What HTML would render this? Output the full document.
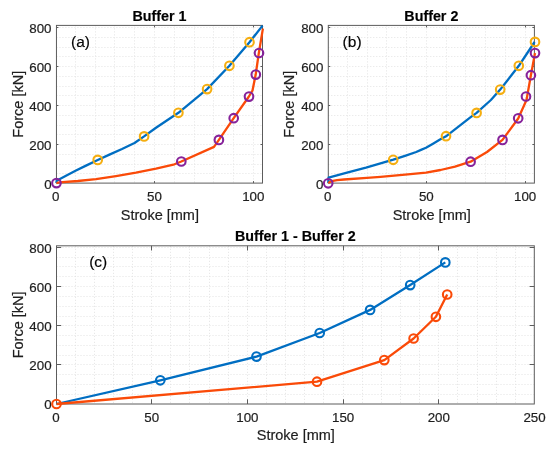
<!DOCTYPE html>
<html><head><meta charset="utf-8"><title>Buffer force-stroke</title>
<style>
html,body{margin:0;padding:0;background:#fff;width:550px;height:449px;overflow:hidden}
svg{display:block}
text{font-family:"Liberation Sans",Arial,Helvetica,sans-serif;fill:#1e1e1e;stroke:#1e1e1e;stroke-width:0.2px}
.tl{font-size:13.33px}
.lb{font-size:14.5px}
.tt{font-size:14.3px;font-weight:bold;fill:#000}
.abc{font-size:15.5px;fill:#000}
.g{stroke:#e3e3e3;stroke-width:1;stroke-dasharray:1 2;fill:none}
.box{fill:none;stroke:#5c5c5c;stroke-width:1}
.tk{stroke:#5c5c5c;stroke-width:1}
</style></head><body>
<svg width="550" height="449" viewBox="0 0 550 449">
<rect width="550" height="449" fill="#fff"/>
<line x1="75.5" y1="25.4" x2="75.5" y2="183.1" class="g"/>
<line x1="95.5" y1="25.4" x2="95.5" y2="183.1" class="g"/>
<line x1="114.5" y1="25.4" x2="114.5" y2="183.1" class="g"/>
<line x1="134.5" y1="25.4" x2="134.5" y2="183.1" class="g"/>
<line x1="154.5" y1="25.4" x2="154.5" y2="183.1" class="g"/>
<line x1="174.5" y1="25.4" x2="174.5" y2="183.1" class="g"/>
<line x1="194.5" y1="25.4" x2="194.5" y2="183.1" class="g"/>
<line x1="213.5" y1="25.4" x2="213.5" y2="183.1" class="g"/>
<line x1="233.5" y1="25.4" x2="233.5" y2="183.1" class="g"/>
<line x1="253.5" y1="25.4" x2="253.5" y2="183.1" class="g"/>
<line x1="56.45" y1="173.5" x2="262.5" y2="173.5" class="g"/>
<line x1="56.45" y1="164.5" x2="262.5" y2="164.5" class="g"/>
<line x1="56.45" y1="154.5" x2="262.5" y2="154.5" class="g"/>
<line x1="56.45" y1="144.5" x2="262.5" y2="144.5" class="g"/>
<line x1="56.45" y1="134.5" x2="262.5" y2="134.5" class="g"/>
<line x1="56.45" y1="125.5" x2="262.5" y2="125.5" class="g"/>
<line x1="56.45" y1="115.5" x2="262.5" y2="115.5" class="g"/>
<line x1="56.45" y1="105.5" x2="262.5" y2="105.5" class="g"/>
<line x1="56.45" y1="95.5" x2="262.5" y2="95.5" class="g"/>
<line x1="56.45" y1="86.5" x2="262.5" y2="86.5" class="g"/>
<line x1="56.45" y1="76.5" x2="262.5" y2="76.5" class="g"/>
<line x1="56.45" y1="66.5" x2="262.5" y2="66.5" class="g"/>
<line x1="56.45" y1="56.5" x2="262.5" y2="56.5" class="g"/>
<line x1="56.45" y1="47.5" x2="262.5" y2="47.5" class="g"/>
<line x1="56.45" y1="37.5" x2="262.5" y2="37.5" class="g"/>
<line x1="56.45" y1="27.5" x2="262.5" y2="27.5" class="g"/>
<rect x="56.45" y="25.4" width="206.05" height="157.7" class="box"/>
<text x="55.75" y="201.1" class="tl" text-anchor="middle">0</text>
<line x1="154.5" y1="183.1" x2="154.5" y2="181.1" class="tk"/>
<line x1="154.5" y1="25.4" x2="154.5" y2="27.4" class="tk"/>
<text x="154.5" y="201.1" class="tl" text-anchor="middle">50</text>
<line x1="253.5" y1="183.1" x2="253.5" y2="181.1" class="tk"/>
<line x1="253.5" y1="25.4" x2="253.5" y2="27.4" class="tk"/>
<text x="253.25" y="201.1" class="tl" text-anchor="middle">100</text>
<text x="51.55" y="188.7" class="tl" text-anchor="end">0</text>
<line x1="56.45" y1="144.5" x2="58.45" y2="144.5" class="tk"/>
<line x1="262.5" y1="144.5" x2="260.5" y2="144.5" class="tk"/>
<text x="51.55" y="149.74" class="tl" text-anchor="end">200</text>
<line x1="56.45" y1="105.5" x2="58.45" y2="105.5" class="tk"/>
<line x1="262.5" y1="105.5" x2="260.5" y2="105.5" class="tk"/>
<text x="51.55" y="110.78" class="tl" text-anchor="end">400</text>
<line x1="56.45" y1="66.5" x2="58.45" y2="66.5" class="tk"/>
<line x1="262.5" y1="66.5" x2="260.5" y2="66.5" class="tk"/>
<text x="51.55" y="71.82" class="tl" text-anchor="end">600</text>
<line x1="56.45" y1="27.5" x2="58.45" y2="27.5" class="tk"/>
<line x1="262.5" y1="27.5" x2="260.5" y2="27.5" class="tk"/>
<text x="51.55" y="32.86" class="tl" text-anchor="end">800</text>
<text x="159.47" y="20.9" class="tt" text-anchor="middle">Buffer 1</text>
<text x="159.88" y="219.6" class="lb" text-anchor="middle">Stroke [mm]</text>
<text transform="translate(22.6,104.25) rotate(-90)" class="lb" text-anchor="middle">Force [kN]</text>
<text x="71" y="46.7" class="abc">(a)</text>
<line x1="347.5" y1="25.4" x2="347.5" y2="183.1" class="g"/>
<line x1="367.5" y1="25.4" x2="367.5" y2="183.1" class="g"/>
<line x1="386.5" y1="25.4" x2="386.5" y2="183.1" class="g"/>
<line x1="406.5" y1="25.4" x2="406.5" y2="183.1" class="g"/>
<line x1="426.5" y1="25.4" x2="426.5" y2="183.1" class="g"/>
<line x1="446.5" y1="25.4" x2="446.5" y2="183.1" class="g"/>
<line x1="465.5" y1="25.4" x2="465.5" y2="183.1" class="g"/>
<line x1="485.5" y1="25.4" x2="485.5" y2="183.1" class="g"/>
<line x1="505.5" y1="25.4" x2="505.5" y2="183.1" class="g"/>
<line x1="525.5" y1="25.4" x2="525.5" y2="183.1" class="g"/>
<line x1="328.3" y1="173.5" x2="534.4" y2="173.5" class="g"/>
<line x1="328.3" y1="164.5" x2="534.4" y2="164.5" class="g"/>
<line x1="328.3" y1="154.5" x2="534.4" y2="154.5" class="g"/>
<line x1="328.3" y1="144.5" x2="534.4" y2="144.5" class="g"/>
<line x1="328.3" y1="134.5" x2="534.4" y2="134.5" class="g"/>
<line x1="328.3" y1="125.5" x2="534.4" y2="125.5" class="g"/>
<line x1="328.3" y1="115.5" x2="534.4" y2="115.5" class="g"/>
<line x1="328.3" y1="105.5" x2="534.4" y2="105.5" class="g"/>
<line x1="328.3" y1="95.5" x2="534.4" y2="95.5" class="g"/>
<line x1="328.3" y1="86.5" x2="534.4" y2="86.5" class="g"/>
<line x1="328.3" y1="76.5" x2="534.4" y2="76.5" class="g"/>
<line x1="328.3" y1="66.5" x2="534.4" y2="66.5" class="g"/>
<line x1="328.3" y1="56.5" x2="534.4" y2="56.5" class="g"/>
<line x1="328.3" y1="47.5" x2="534.4" y2="47.5" class="g"/>
<line x1="328.3" y1="37.5" x2="534.4" y2="37.5" class="g"/>
<line x1="328.3" y1="27.5" x2="534.4" y2="27.5" class="g"/>
<rect x="328.3" y="25.4" width="206.1" height="157.7" class="box"/>
<text x="327.6" y="201.1" class="tl" text-anchor="middle">0</text>
<line x1="426.5" y1="183.1" x2="426.5" y2="181.1" class="tk"/>
<line x1="426.5" y1="25.4" x2="426.5" y2="27.4" class="tk"/>
<text x="426.35" y="201.1" class="tl" text-anchor="middle">50</text>
<line x1="525.5" y1="183.1" x2="525.5" y2="181.1" class="tk"/>
<line x1="525.5" y1="25.4" x2="525.5" y2="27.4" class="tk"/>
<text x="525.1" y="201.1" class="tl" text-anchor="middle">100</text>
<text x="323.4" y="188.7" class="tl" text-anchor="end">0</text>
<line x1="328.3" y1="144.5" x2="330.3" y2="144.5" class="tk"/>
<line x1="534.4" y1="144.5" x2="532.4" y2="144.5" class="tk"/>
<text x="323.4" y="149.74" class="tl" text-anchor="end">200</text>
<line x1="328.3" y1="105.5" x2="330.3" y2="105.5" class="tk"/>
<line x1="534.4" y1="105.5" x2="532.4" y2="105.5" class="tk"/>
<text x="323.4" y="110.78" class="tl" text-anchor="end">400</text>
<line x1="328.3" y1="66.5" x2="330.3" y2="66.5" class="tk"/>
<line x1="534.4" y1="66.5" x2="532.4" y2="66.5" class="tk"/>
<text x="323.4" y="71.82" class="tl" text-anchor="end">600</text>
<line x1="328.3" y1="27.5" x2="330.3" y2="27.5" class="tk"/>
<line x1="534.4" y1="27.5" x2="532.4" y2="27.5" class="tk"/>
<text x="323.4" y="32.86" class="tl" text-anchor="end">800</text>
<text x="431.35" y="20.9" class="tt" text-anchor="middle">Buffer 2</text>
<text x="431.75" y="219.6" class="lb" text-anchor="middle">Stroke [mm]</text>
<text transform="translate(294.4,104.25) rotate(-90)" class="lb" text-anchor="middle">Force [kN]</text>
<text x="342.6" y="47" class="abc">(b)</text>
<line x1="75.5" y1="245.8" x2="75.5" y2="404" class="g"/>
<line x1="94.5" y1="245.8" x2="94.5" y2="404" class="g"/>
<line x1="113.5" y1="245.8" x2="113.5" y2="404" class="g"/>
<line x1="132.5" y1="245.8" x2="132.5" y2="404" class="g"/>
<line x1="151.5" y1="245.8" x2="151.5" y2="404" class="g"/>
<line x1="170.5" y1="245.8" x2="170.5" y2="404" class="g"/>
<line x1="189.5" y1="245.8" x2="189.5" y2="404" class="g"/>
<line x1="209.5" y1="245.8" x2="209.5" y2="404" class="g"/>
<line x1="228.5" y1="245.8" x2="228.5" y2="404" class="g"/>
<line x1="247.5" y1="245.8" x2="247.5" y2="404" class="g"/>
<line x1="266.5" y1="245.8" x2="266.5" y2="404" class="g"/>
<line x1="285.5" y1="245.8" x2="285.5" y2="404" class="g"/>
<line x1="304.5" y1="245.8" x2="304.5" y2="404" class="g"/>
<line x1="323.5" y1="245.8" x2="323.5" y2="404" class="g"/>
<line x1="343.5" y1="245.8" x2="343.5" y2="404" class="g"/>
<line x1="362.5" y1="245.8" x2="362.5" y2="404" class="g"/>
<line x1="381.5" y1="245.8" x2="381.5" y2="404" class="g"/>
<line x1="400.5" y1="245.8" x2="400.5" y2="404" class="g"/>
<line x1="419.5" y1="245.8" x2="419.5" y2="404" class="g"/>
<line x1="438.5" y1="245.8" x2="438.5" y2="404" class="g"/>
<line x1="457.5" y1="245.8" x2="457.5" y2="404" class="g"/>
<line x1="477.5" y1="245.8" x2="477.5" y2="404" class="g"/>
<line x1="496.5" y1="245.8" x2="496.5" y2="404" class="g"/>
<line x1="515.5" y1="245.8" x2="515.5" y2="404" class="g"/>
<line x1="56.5" y1="394.5" x2="534.3" y2="394.5" class="g"/>
<line x1="56.5" y1="384.5" x2="534.3" y2="384.5" class="g"/>
<line x1="56.5" y1="374.5" x2="534.3" y2="374.5" class="g"/>
<line x1="56.5" y1="364.5" x2="534.3" y2="364.5" class="g"/>
<line x1="56.5" y1="355.5" x2="534.3" y2="355.5" class="g"/>
<line x1="56.5" y1="345.5" x2="534.3" y2="345.5" class="g"/>
<line x1="56.5" y1="335.5" x2="534.3" y2="335.5" class="g"/>
<line x1="56.5" y1="325.5" x2="534.3" y2="325.5" class="g"/>
<line x1="56.5" y1="316.5" x2="534.3" y2="316.5" class="g"/>
<line x1="56.5" y1="306.5" x2="534.3" y2="306.5" class="g"/>
<line x1="56.5" y1="296.5" x2="534.3" y2="296.5" class="g"/>
<line x1="56.5" y1="286.5" x2="534.3" y2="286.5" class="g"/>
<line x1="56.5" y1="276.5" x2="534.3" y2="276.5" class="g"/>
<line x1="56.5" y1="266.5" x2="534.3" y2="266.5" class="g"/>
<line x1="56.5" y1="257.5" x2="534.3" y2="257.5" class="g"/>
<line x1="56.5" y1="247.5" x2="534.3" y2="247.5" class="g"/>
<rect x="56.5" y="245.8" width="477.8" height="158.2" class="box"/>
<text x="56" y="421.6" class="tl" text-anchor="middle">0</text>
<line x1="151.5" y1="404" x2="151.5" y2="399.3" class="tk"/>
<line x1="151.5" y1="245.8" x2="151.5" y2="250.5" class="tk"/>
<text x="151.7" y="421.6" class="tl" text-anchor="middle">50</text>
<line x1="247.5" y1="404" x2="247.5" y2="399.3" class="tk"/>
<line x1="247.5" y1="245.8" x2="247.5" y2="250.5" class="tk"/>
<text x="247.4" y="421.6" class="tl" text-anchor="middle">100</text>
<line x1="343.5" y1="404" x2="343.5" y2="399.3" class="tk"/>
<line x1="343.5" y1="245.8" x2="343.5" y2="250.5" class="tk"/>
<text x="343.1" y="421.6" class="tl" text-anchor="middle">150</text>
<line x1="438.5" y1="404" x2="438.5" y2="399.3" class="tk"/>
<line x1="438.5" y1="245.8" x2="438.5" y2="250.5" class="tk"/>
<text x="438.8" y="421.6" class="tl" text-anchor="middle">200</text>
<text x="534.5" y="421.6" class="tl" text-anchor="middle">250</text>
<text x="51.6" y="409.3" class="tl" text-anchor="end">0</text>
<line x1="56.5" y1="364.5" x2="61.2" y2="364.5" class="tk"/>
<line x1="534.3" y1="364.5" x2="529.6" y2="364.5" class="tk"/>
<text x="51.6" y="370.1" class="tl" text-anchor="end">200</text>
<line x1="56.5" y1="325.5" x2="61.2" y2="325.5" class="tk"/>
<line x1="534.3" y1="325.5" x2="529.6" y2="325.5" class="tk"/>
<text x="51.6" y="330.9" class="tl" text-anchor="end">400</text>
<line x1="56.5" y1="286.5" x2="61.2" y2="286.5" class="tk"/>
<line x1="534.3" y1="286.5" x2="529.6" y2="286.5" class="tk"/>
<text x="51.6" y="291.7" class="tl" text-anchor="end">600</text>
<line x1="56.5" y1="247.5" x2="61.2" y2="247.5" class="tk"/>
<line x1="534.3" y1="247.5" x2="529.6" y2="247.5" class="tk"/>
<text x="51.6" y="252.5" class="tl" text-anchor="end">800</text>
<text x="295.4" y="241" class="tt" text-anchor="middle">Buffer 1 - Buffer 2</text>
<text x="295.8" y="440.2" class="lb" text-anchor="middle">Stroke [mm]</text>
<text transform="translate(22.6,324.9) rotate(-90)" class="lb" text-anchor="middle">Force [kN]</text>
<text x="89.2" y="266.9" class="abc">(c)</text>
<polyline points="56.45,183.1 56.6,180.8 66,175.8 76,170.6 86,165.6 97.7,160 110,154.4 122,149 134.5,143 144.1,136.4 156,127.8 178.4,112.8 207.1,89.1 229.4,65.8 249.5,42.3 262.5,25.6" fill="none" stroke="#006EC2" stroke-width="2.3" stroke-linejoin="round" stroke-linecap="butt"/>
<polyline points="56.45,183.1 59.6,182.4 77.8,181 96,179.1 116,176.1 136,172.7 156,168.6 174.5,164.3 181.3,161.5 214,146.9 218.9,139.9 233.7,118.2 248.6,97 252.5,90.5 255.7,74.6 258.75,53.5 262.9,28.6" fill="none" stroke="#FA4A08" stroke-width="2.3" stroke-linejoin="round" stroke-linecap="butt"/>
<circle cx="97.7" cy="159.9" r="4.3" fill="none" stroke="#F5AE10" stroke-width="2.1"/><circle cx="144.1" cy="136.4" r="4.3" fill="none" stroke="#F5AE10" stroke-width="2.1"/><circle cx="178.4" cy="112.8" r="4.3" fill="none" stroke="#F5AE10" stroke-width="2.1"/><circle cx="207.1" cy="89.1" r="4.3" fill="none" stroke="#F5AE10" stroke-width="2.1"/><circle cx="229.4" cy="65.8" r="4.3" fill="none" stroke="#F5AE10" stroke-width="2.1"/><circle cx="249.5" cy="42.2" r="4.3" fill="none" stroke="#F5AE10" stroke-width="2.1"/>
<circle cx="56.45" cy="183.1" r="4.3" fill="none" stroke="#86229A" stroke-width="2.1"/><circle cx="181.3" cy="161.5" r="4.3" fill="none" stroke="#86229A" stroke-width="2.1"/><circle cx="218.9" cy="139.9" r="4.3" fill="none" stroke="#86229A" stroke-width="2.1"/><circle cx="233.7" cy="118.2" r="4.3" fill="none" stroke="#86229A" stroke-width="2.1"/><circle cx="249" cy="96.6" r="4.3" fill="none" stroke="#86229A" stroke-width="2.1"/><circle cx="255.8" cy="74.6" r="4.3" fill="none" stroke="#86229A" stroke-width="2.1"/><circle cx="259" cy="53" r="4.3" fill="none" stroke="#86229A" stroke-width="2.1"/>
<polyline points="328.3,183.1 328.6,177.6 347,172.6 366,167.6 393.3,159.7 405,155.8 416.2,152 421,149.9 426,147.8 433,143.8 440,139.6 446,136.3 470,117.6 476.6,112.9 490.9,100 500.2,89.6 518.8,65.8 534.6,42" fill="none" stroke="#006EC2" stroke-width="2.3" stroke-linejoin="round" stroke-linecap="butt"/>
<polyline points="328.3,183.1 330,181.8 333,180.8 337,180.1 344,179.5 366.9,177.9 380.5,176.8 407.8,174.3 426,172.6 440.5,170 455,166.6 470.6,161.7 487,152 502.5,139.9 518.2,118.5 526.5,100 530.9,75.2 535,53.1" fill="none" stroke="#FA4A08" stroke-width="2.3" stroke-linejoin="round" stroke-linecap="butt"/>
<circle cx="393.2" cy="159.8" r="4.3" fill="none" stroke="#F5AE10" stroke-width="2.1"/><circle cx="446" cy="136.2" r="4.3" fill="none" stroke="#F5AE10" stroke-width="2.1"/><circle cx="476.6" cy="112.9" r="4.3" fill="none" stroke="#F5AE10" stroke-width="2.1"/><circle cx="500.2" cy="89.6" r="4.3" fill="none" stroke="#F5AE10" stroke-width="2.1"/><circle cx="518.8" cy="65.8" r="4.3" fill="none" stroke="#F5AE10" stroke-width="2.1"/><circle cx="535" cy="41.9" r="4.3" fill="none" stroke="#F5AE10" stroke-width="2.1"/>
<circle cx="328.2" cy="183.3" r="4.3" fill="none" stroke="#86229A" stroke-width="2.1"/><circle cx="470.6" cy="161.7" r="4.3" fill="none" stroke="#86229A" stroke-width="2.1"/><circle cx="502.5" cy="139.9" r="4.3" fill="none" stroke="#86229A" stroke-width="2.1"/><circle cx="518.2" cy="118.3" r="4.3" fill="none" stroke="#86229A" stroke-width="2.1"/><circle cx="526" cy="96.5" r="4.3" fill="none" stroke="#86229A" stroke-width="2.1"/><circle cx="530.9" cy="75.2" r="4.3" fill="none" stroke="#86229A" stroke-width="2.1"/><circle cx="535" cy="53.1" r="4.3" fill="none" stroke="#86229A" stroke-width="2.1"/>
<polyline points="56.5,404 160.3,380.3 256.5,356.6 319.7,333 370.1,309.9 410.2,285.1 445.3,262.4" fill="none" stroke="#006EC2" stroke-width="2.3" stroke-linejoin="round" stroke-linecap="butt"/>
<polyline points="56.5,404 317,381.7 384.3,360.1 413.6,338.5 435.9,316.8 447.2,294.5" fill="none" stroke="#FA4A08" stroke-width="2.3" stroke-linejoin="round" stroke-linecap="butt"/>
<circle cx="160.3" cy="380.3" r="4.3" fill="none" stroke="#006EC2" stroke-width="2.1"/><circle cx="256.5" cy="356.6" r="4.3" fill="none" stroke="#006EC2" stroke-width="2.1"/><circle cx="319.7" cy="333" r="4.3" fill="none" stroke="#006EC2" stroke-width="2.1"/><circle cx="370.1" cy="309.9" r="4.3" fill="none" stroke="#006EC2" stroke-width="2.1"/><circle cx="410.2" cy="285.1" r="4.3" fill="none" stroke="#006EC2" stroke-width="2.1"/><circle cx="445.3" cy="262.4" r="4.3" fill="none" stroke="#006EC2" stroke-width="2.1"/>
<circle cx="56.5" cy="404" r="4.3" fill="none" stroke="#FA4A08" stroke-width="2.1"/><circle cx="317" cy="381.7" r="4.3" fill="none" stroke="#FA4A08" stroke-width="2.1"/><circle cx="384.3" cy="360.1" r="4.3" fill="none" stroke="#FA4A08" stroke-width="2.1"/><circle cx="413.6" cy="338.5" r="4.3" fill="none" stroke="#FA4A08" stroke-width="2.1"/><circle cx="435.9" cy="316.8" r="4.3" fill="none" stroke="#FA4A08" stroke-width="2.1"/><circle cx="447.2" cy="294.5" r="4.3" fill="none" stroke="#FA4A08" stroke-width="2.1"/>
</svg>
</body></html>
